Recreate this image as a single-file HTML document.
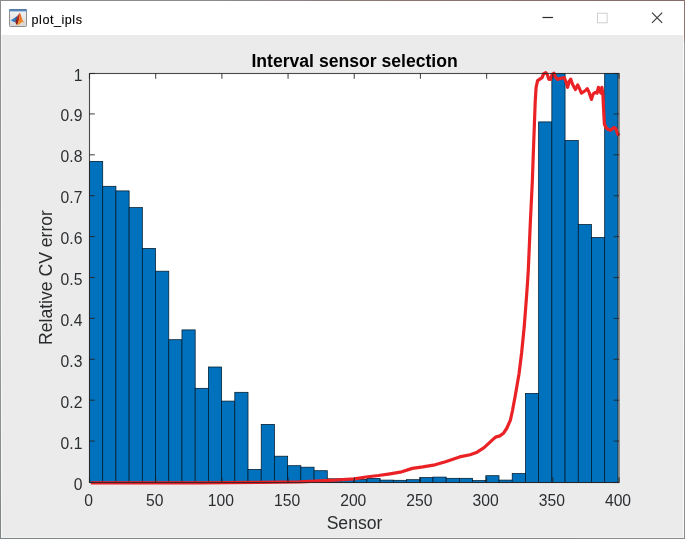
<!DOCTYPE html>
<html><head><meta charset="utf-8"><title>plot_ipls</title>
<style>
html,body{margin:0;padding:0;}
body{width:685px;height:539px;overflow:hidden;background:#ebebeb;position:relative;font-family:"Liberation Sans",Arial,sans-serif;}
#tb{position:absolute;left:0;top:0;width:685px;height:35px;background:#fff;}
#ttl{position:absolute;left:31.6px;top:12px;font-size:12.6px;letter-spacing:0.52px;-webkit-text-stroke:0.1px #000;line-height:16px;color:#000;white-space:nowrap;}
.bd{position:absolute;}
</style></head><body>
<div id="tb">
<svg width="18" height="18" viewBox="0 0 18 18" style="position:absolute;left:9.1px;top:8.7px">
<defs>
<linearGradient id="ib" x1="0" y1="0" x2="0" y2="1"><stop offset="0" stop-color="#f6f6f6"/><stop offset="1" stop-color="#d6d6d6"/></linearGradient>
<linearGradient id="il" x1="0" y1="0" x2="1" y2="0"><stop offset="0" stop-color="#6e1216"/><stop offset="1" stop-color="#cf3a1c"/></linearGradient>
<linearGradient id="ir" x1="0" y1="0" x2="0" y2="1"><stop offset="0" stop-color="#e2521c"/><stop offset="0.6" stop-color="#ee8426"/><stop offset="1" stop-color="#f6a830"/></linearGradient>
<linearGradient id="iw" x1="0" y1="0" x2="1" y2="0"><stop offset="0" stop-color="#3f97dc"/><stop offset="1" stop-color="#2a5a9a"/></linearGradient>
<linearGradient id="it" x1="0" y1="0" x2="0" y2="1"><stop offset="0" stop-color="#3d6ea6"/><stop offset="1" stop-color="#6d9bcc"/></linearGradient>
</defs>
<rect x="0.5" y="0.5" width="17" height="17" rx="0.8" fill="url(#ib)" stroke="#909090"/>
<rect x="0.3" y="0.2" width="17.4" height="2.3" fill="url(#it)"/>
<g transform="translate(8.8,10.2) scale(1.12) translate(-8.8,-10.2)"><path d="M2.3 11.1 L6.1 8.9 L8.8 7.0 L7.8 10 L6.5 12.6 L5.2 12.8 Z" fill="url(#iw)"/>
<path d="M6.5 12.6 L8.8 7.0 L10.6 4.4 L10.4 8 L9.6 12 L8.2 15.7 L7.2 14.2 Z" fill="url(#il)"/>
<path d="M10.6 4.4 C11.4 5.6 12 8.5 13 10.8 C13.6 12 14.4 13.2 15.1 13.8 C14.2 13.3 13.6 12.6 13 12.6 C12 12.8 11.2 14 10.4 14.7 L8.2 15.8 L9.6 12 L10.4 8 Z" fill="url(#ir)"/></g>
</svg>
<div id="ttl">plot_ipls</div>
<svg width="150" height="35" viewBox="535 0 150 35" style="position:absolute;left:535px;top:0">
<line x1="542.5" y1="17.5" x2="553" y2="17.5" stroke="#2b2b2b" stroke-width="1.2"/>
<rect x="597.5" y="13.2" width="9.6" height="9.6" fill="none" stroke="#cfcfcf" stroke-width="1"/>
<path d="M652 12.7 L662.2 22.9 M662.2 12.7 L652 22.9" stroke="#3c3c3c" stroke-width="1.2" fill="none"/>
</svg>
</div>
<svg width="685" height="539" viewBox="0 0 685 539" style="position:absolute;left:0;top:0">
<rect x="89.5" y="73.5" width="529.5" height="409.0" fill="#fff"/>
<g fill="#0072bd" stroke="#001a2c" stroke-width="0.75">
<rect x="89.50" y="161.4" width="13.21" height="321.1"/>
<rect x="102.71" y="186.3" width="13.21" height="296.2"/>
<rect x="115.92" y="190.9" width="13.21" height="291.6"/>
<rect x="129.13" y="207.6" width="13.21" height="274.9"/>
<rect x="142.34" y="248.4" width="13.21" height="234.1"/>
<rect x="155.55" y="271.2" width="13.21" height="211.3"/>
<rect x="168.76" y="339.7" width="13.21" height="142.8"/>
<rect x="181.97" y="329.9" width="13.21" height="152.6"/>
<rect x="195.18" y="388.3" width="13.21" height="94.2"/>
<rect x="208.39" y="367.0" width="13.21" height="115.5"/>
<rect x="221.60" y="401.1" width="13.21" height="81.4"/>
<rect x="234.81" y="392.3" width="13.21" height="90.2"/>
<rect x="248.02" y="469.4" width="13.21" height="13.1"/>
<rect x="261.23" y="424.4" width="13.21" height="58.1"/>
<rect x="274.44" y="456.2" width="13.21" height="26.3"/>
<rect x="287.65" y="465.7" width="13.21" height="16.8"/>
<rect x="300.86" y="467.2" width="13.21" height="15.3"/>
<rect x="314.07" y="470.7" width="13.21" height="11.8"/>
<rect x="327.28" y="478.8" width="13.21" height="3.7"/>
<rect x="340.49" y="478.4" width="13.21" height="4.1"/>
<rect x="353.70" y="479.6" width="13.21" height="2.9"/>
<rect x="366.91" y="478.4" width="13.21" height="4.1"/>
<rect x="380.12" y="480.1" width="13.21" height="2.4"/>
<rect x="393.33" y="480.3" width="13.21" height="2.2"/>
<rect x="406.54" y="479.7" width="13.21" height="2.8"/>
<rect x="419.75" y="477.6" width="13.21" height="4.9"/>
<rect x="432.96" y="477.1" width="13.21" height="5.4"/>
<rect x="446.17" y="478.3" width="13.21" height="4.2"/>
<rect x="459.38" y="478.3" width="13.21" height="4.2"/>
<rect x="472.59" y="480.6" width="13.21" height="1.9"/>
<rect x="485.80" y="475.7" width="13.21" height="6.8"/>
<rect x="499.01" y="480.1" width="13.21" height="2.4"/>
<rect x="512.22" y="473.6" width="13.21" height="8.9"/>
<rect x="525.43" y="393.4" width="13.21" height="89.1"/>
<rect x="538.64" y="121.9" width="13.21" height="360.6"/>
<rect x="551.85" y="73.5" width="13.21" height="409.0"/>
<rect x="565.06" y="140.5" width="13.21" height="342.0"/>
<rect x="578.27" y="224.5" width="13.21" height="258.0"/>
<rect x="591.48" y="237.5" width="13.21" height="245.0"/>
<rect x="604.69" y="73.5" width="13.21" height="409.0"/>
</g>
<polyline points="90.8,482.9 200,482.8 260,482.3 300,481.8 320,480.9 335,480.2 354.3,478.8 366,477.0 378.4,475.5 390,473.8 400.3,472.2 412.3,468.4 422.8,466.9 435,464.8 445.5,461.7 459.6,456.9 470.1,454.7 477.1,452.2 484.1,447.7 491.1,441.2 495.5,437.1 499.9,435.9 503.4,433.3 506.9,428 510.4,420.1 512.5,410.5 515.2,396 519,374 521.6,353 524.2,327 526.2,301 527.5,283 528.3,270 530.4,221 532.3,182 533.7,143 534.4,124 535.2,102 536.1,87.3 537.6,80.6 539.8,79.1 542.1,77.6 543.5,73.9 545.8,72.6 547.3,74.6 548.7,79.1 550.5,79.5 552,74.6 553.9,73.2 555.4,76.9 557.6,79.5 559.9,78.6 562.1,78 564.3,77.6 565.8,81.3 567.6,87.3 569.2,81.3 570.7,79.1 572.5,84.3 575.4,89.5 577.7,85 579.2,88 581.4,93.2 583.6,91.7 585.8,90.2 587.3,88.7 589.1,92.4 591.5,99.4 593.2,93.9 595.5,92.4 597,93.2 598.4,87.3 599.9,91 600.9,93 601.9,87.3 602.9,94.7 603.6,109.5 604.4,124.3 605.9,127.3 608.1,129.5 610.3,130.3 612.5,128.8 614,127.3 615.8,128.8 617.7,134 619.2,135.5" fill="none" stroke="#ea2226" stroke-width="3.2" stroke-linejoin="round"/>
<g stroke="#222426" stroke-opacity="0.82" stroke-width="1.1" fill="none">
<rect x="89.5" y="73.5" width="529.5" height="409.0"/>
<line x1="89.50" y1="482.5" x2="89.50" y2="477.2"/>
<line x1="89.50" y1="73.5" x2="89.50" y2="78.8"/>
<line x1="155.69" y1="482.5" x2="155.69" y2="477.2"/>
<line x1="155.69" y1="73.5" x2="155.69" y2="78.8"/>
<line x1="221.88" y1="482.5" x2="221.88" y2="477.2"/>
<line x1="221.88" y1="73.5" x2="221.88" y2="78.8"/>
<line x1="288.06" y1="482.5" x2="288.06" y2="477.2"/>
<line x1="288.06" y1="73.5" x2="288.06" y2="78.8"/>
<line x1="354.25" y1="482.5" x2="354.25" y2="477.2"/>
<line x1="354.25" y1="73.5" x2="354.25" y2="78.8"/>
<line x1="420.44" y1="482.5" x2="420.44" y2="477.2"/>
<line x1="420.44" y1="73.5" x2="420.44" y2="78.8"/>
<line x1="486.62" y1="482.5" x2="486.62" y2="477.2"/>
<line x1="486.62" y1="73.5" x2="486.62" y2="78.8"/>
<line x1="552.81" y1="482.5" x2="552.81" y2="477.2"/>
<line x1="552.81" y1="73.5" x2="552.81" y2="78.8"/>
<line x1="619.00" y1="482.5" x2="619.00" y2="477.2"/>
<line x1="619.00" y1="73.5" x2="619.00" y2="78.8"/>
<line x1="89.5" y1="482.50" x2="94.8" y2="482.50"/>
<line x1="619.0" y1="482.50" x2="613.7" y2="482.50"/>
<line x1="89.5" y1="441.10" x2="94.8" y2="441.10"/>
<line x1="619.0" y1="441.10" x2="613.7" y2="441.10"/>
<line x1="89.5" y1="400.20" x2="94.8" y2="400.20"/>
<line x1="619.0" y1="400.20" x2="613.7" y2="400.20"/>
<line x1="89.5" y1="359.30" x2="94.8" y2="359.30"/>
<line x1="619.0" y1="359.30" x2="613.7" y2="359.30"/>
<line x1="89.5" y1="318.40" x2="94.8" y2="318.40"/>
<line x1="619.0" y1="318.40" x2="613.7" y2="318.40"/>
<line x1="89.5" y1="277.50" x2="94.8" y2="277.50"/>
<line x1="619.0" y1="277.50" x2="613.7" y2="277.50"/>
<line x1="89.5" y1="236.60" x2="94.8" y2="236.60"/>
<line x1="619.0" y1="236.60" x2="613.7" y2="236.60"/>
<line x1="89.5" y1="195.70" x2="94.8" y2="195.70"/>
<line x1="619.0" y1="195.70" x2="613.7" y2="195.70"/>
<line x1="89.5" y1="154.80" x2="94.8" y2="154.80"/>
<line x1="619.0" y1="154.80" x2="613.7" y2="154.80"/>
<line x1="89.5" y1="113.90" x2="94.8" y2="113.90"/>
<line x1="619.0" y1="113.90" x2="613.7" y2="113.90"/>
<line x1="89.5" y1="73.50" x2="94.8" y2="73.50"/>
<line x1="619.0" y1="73.50" x2="613.7" y2="73.50"/>
</g>
<g font-family="'Liberation Sans', Arial, sans-serif" font-size="15.7" fill="#2c2f32">
<text x="88.50" y="505.6" text-anchor="middle">0</text>
<text x="154.69" y="505.6" text-anchor="middle">50</text>
<text x="220.88" y="505.6" text-anchor="middle">100</text>
<text x="287.06" y="505.6" text-anchor="middle">150</text>
<text x="353.25" y="505.6" text-anchor="middle">200</text>
<text x="419.44" y="505.6" text-anchor="middle">250</text>
<text x="485.62" y="505.6" text-anchor="middle">300</text>
<text x="551.81" y="505.6" text-anchor="middle">350</text>
<text x="618.00" y="505.6" text-anchor="middle">400</text>
<text x="82.4" y="489.50" text-anchor="end">0</text>
<text x="82.4" y="448.60" text-anchor="end">0.1</text>
<text x="82.4" y="407.70" text-anchor="end">0.2</text>
<text x="82.4" y="366.80" text-anchor="end">0.3</text>
<text x="82.4" y="325.90" text-anchor="end">0.4</text>
<text x="82.4" y="285.00" text-anchor="end">0.5</text>
<text x="82.4" y="244.10" text-anchor="end">0.6</text>
<text x="82.4" y="203.20" text-anchor="end">0.7</text>
<text x="82.4" y="162.30" text-anchor="end">0.8</text>
<text x="82.4" y="121.40" text-anchor="end">0.9</text>
<text x="82.4" y="80.50" text-anchor="end">1</text>
</g>
<g font-family="'Liberation Sans', Arial, sans-serif" font-size="17.6" fill="#2a2c2e">
<text x="354.5" y="528.7" text-anchor="middle">Sensor</text>
<text transform="translate(52,277.5) rotate(-90)" text-anchor="middle">Relative CV error</text>
<text x="354.6" y="66.9" text-anchor="middle" font-weight="bold" fill="#000">Interval sensor selection</text>
</g>
</svg>
<div class="bd" style="left:1px;top:35px;width:1px;height:503px;background:#f6f6f6"></div>
<div class="bd" style="left:683px;top:35px;width:1px;height:503px;background:#fafafa"></div>
<div class="bd" style="left:1px;top:537px;width:683px;height:1px;background:#f2f2f2"></div>
<div class="bd" style="left:0;top:0;width:685px;height:1px;background:linear-gradient(90deg,#8c8c8c 0,#8c8c8c 30%,#8a7471 60%,#846c69 100%)"></div>
<div class="bd" style="left:0;top:0;width:1px;height:539px;background:linear-gradient(180deg,#8c8c8c 0,#959b9c 60%,#7e8486 100%)"></div>
<div class="bd" style="left:684px;top:0;width:1px;height:539px;background:linear-gradient(180deg,#8d7572 0,#8d7572 38px,#a0a0a0 44px,#8c8c8c 100%)"></div>
<div class="bd" style="left:0;top:538px;width:685px;height:1px;background:linear-gradient(90deg,#7c8688 0,#8a8a8a 100%)"></div>
</body></html>
